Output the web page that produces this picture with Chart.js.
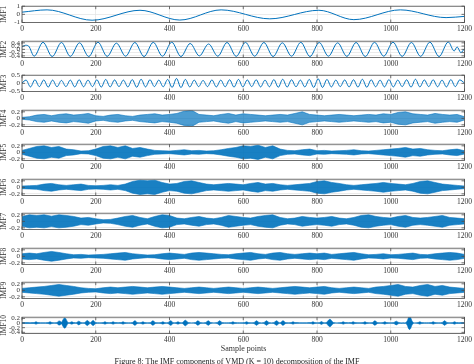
<!DOCTYPE html>
<html>
<head>
<meta charset="utf-8">
<script src="https://cdn.jsdelivr.net/npm/chart.js@4.4.1/dist/chart.umd.min.js"></script>
<style>
body { margin: 0; background: #fff; width: 474px; height: 364px; overflow: hidden; position: relative; font-family: "Liberation Serif", serif; }
canvas { position: absolute; left: 0; }
.xlabel { position: absolute; top: 344px; left: 22px; width: 443px; text-align: center; font-size: 8px; color: #333; }
.caption { position: absolute; top: 357px; left: 0; width: 474px; text-align: center; font-size: 8px; color: #222; }
</style>
</head>
<body>
<div id="wrap"></div>
<div class="xlabel">Sample points</div>
<div class="caption">Figure 8: The IMF components of VMD (K = 10) decomposition of the IMF</div>
<script>
const xTicks = [0, 200, 400, 600, 800, 1000, 1200];
const imfNames = ['IMF1', 'IMF2', 'IMF3', 'IMF4', 'IMF5', 'IMF6', 'IMF7', 'IMF8', 'IMF9', 'IMF10'];
const yRanges = [[-1, 1], [-0.5, 0.5], [-0.5, 0.5], [-0.25, 0.25], [-0.25, 0.25], [-0.25, 0.25], [-0.25, 0.25], [-0.25, 0.25], [-0.25, 0.25], [-0.45, 0.25]];
const yTicks = [[1, 0, -1], [0.4, 0.2, 0, -0.2, -0.4], [0.5, 0, -0.5], [0.2, 0, -0.2], [0.2, 0, -0.2], [0.2, 0, -0.2], [0.2, 0, -0.2], [0.2, 0, -0.2], [0.2, 0, -0.2], [0.2, 0, -0.2, -0.4]];

// IMF1..IMF3: turning points
const imf1X = [0, 68, 190, 320, 428, 540, 672, 805, 900, 1026, 1150, 1200];
const imf1Y = [0.27, 0.55, -0.72, 0.5, -0.7, 0.55, -0.55, 0.5, -0.65, 0.55, -0.4, -0.25];

const imf2X = [0, 10, 18, 33, 57, 82, 107, 131, 156, 181, 206, 231, 256, 281, 306, 331, 356, 381, 406, 431, 456, 481, 506, 531, 556, 581, 606, 631, 656, 681, 706, 731, 756, 781, 806, 831, 856, 881, 906, 931, 956, 981, 1006, 1031, 1056, 1081, 1106, 1131, 1156, 1172, 1180, 1190, 1200];
const imf2Y = [0.15, 0.25, 0.2, -0.42, 0.43, -0.44, 0.42, -0.43, 0.4, -0.44, 0.44, -0.43, 0.38, -0.42, 0.42, -0.44, 0.43, -0.42, 0.44, -0.44, 0.36, -0.4, 0.33, -0.42, 0.42, -0.43, 0.43, -0.42, 0.42, -0.44, 0.4, -0.42, 0.43, -0.44, 0.42, -0.42, 0.4, -0.43, 0.42, -0.44, 0.43, -0.42, 0.44, -0.43, 0.42, -0.43, 0.44, -0.44, 0.45, -0.1, 0.15, -0.2, 0.05];

const imf3X = [0, 11, 23, 35, 47, 59, 71, 83, 95, 107, 119, 131, 143, 155, 167, 179, 191, 203, 215, 227, 239, 251, 263, 275, 287, 299, 311, 323, 335, 347, 359, 371, 383, 395, 407, 419, 431, 443, 455, 467, 479, 491, 503, 515, 527, 539, 551, 563, 575, 587, 599, 611, 623, 635, 647, 659, 671, 683, 695, 707, 719, 731, 743, 755, 767, 779, 791, 803, 815, 827, 839, 851, 863, 875, 887, 899, 911, 923, 935, 947, 959, 971, 983, 995, 1007, 1019, 1031, 1043, 1055, 1067, 1079, 1091, 1103, 1115, 1127, 1139, 1151, 1163, 1175, 1187, 1200];
const imf3Y = [0.02,
  0.2, -0.22, 0.22, -0.2, 0.21, -0.23, 0.2, -0.21, 0.18, -0.2,
  0.2, -0.22, 0.22, -0.21, 0.2, -0.2, 0.22, -0.23, 0.24, -0.22,
  0.21, -0.2, 0.2, -0.22, 0.23, -0.24, 0.25, -0.22, 0.22, -0.2,
  0.2, -0.21, 0.24, -0.25, 0.3, -0.26, 0.24, -0.22, 0.2, -0.2,
  0.18, -0.2, 0.21, -0.22, 0.2, -0.21, 0.22, -0.23, 0.24, -0.22,
  0.21, -0.2, 0.22, -0.22, 0.2, -0.21, 0.23, -0.24, 0.25, -0.23,
  0.22, -0.21, 0.2, -0.22, 0.24, -0.25, 0.28, -0.25, 0.24, -0.22,
  0.2, -0.2, 0.21, -0.22, 0.22, -0.23, 0.25, -0.24, 0.22, -0.21,
  0.2, -0.22, 0.23, -0.22, 0.2, -0.2, 0.22, -0.23, 0.25, -0.22,
  0.21, -0.2, 0.22, -0.21, 0.2, -0.22, 0.23, -0.2, 0.21,
  0.02];

// IMF4..IMF9: oscillation envelope (half peak-to-peak) every 20 samples
const envX = Array.from({ length: 61 }, (_, i) => i * 20);
const imf4Amp = [
  0.03, 0.05, 0.1, 0.12, 0.08, 0.12, 0.14, 0.1, 0.12, 0.15,
  0.08, 0.06, 0.1, 0.12, 0.08, 0.06, 0.1, 0.12, 0.14, 0.1,
  0.12, 0.15, 0.22, 0.25, 0.12, 0.1, 0.08, 0.12, 0.15, 0.1,
  0.14, 0.12, 0.1, 0.08, 0.1, 0.12, 0.1, 0.15, 0.2, 0.12,
  0.1, 0.08, 0.1, 0.12, 0.1, 0.08, 0.1, 0.12, 0.1, 0.14,
  0.12, 0.18, 0.2, 0.14, 0.12, 0.1, 0.15, 0.12, 0.1, 0.12,
  0.05];
const imf5Amp = [
  0.06, 0.12, 0.18, 0.2, 0.15, 0.18, 0.1, 0.08, 0.04, 0.05,
  0.1, 0.18, 0.2, 0.15, 0.2, 0.12, 0.15, 0.1, 0.06, 0.05,
  0.04, 0.06, 0.08, 0.05, 0.06, 0.04, 0.05, 0.08, 0.12, 0.15,
  0.2, 0.18, 0.22, 0.15, 0.2, 0.1, 0.06, 0.05, 0.08, 0.1,
  0.05, 0.06, 0.04, 0.05, 0.06, 0.08, 0.05, 0.04, 0.06, 0.08,
  0.1, 0.12, 0.15, 0.1, 0.12, 0.08, 0.06, 0.05, 0.08, 0.1,
  0.05];
const imf6Amp = [
  0.04, 0.05, 0.06, 0.1, 0.12, 0.08, 0.06, 0.08, 0.1, 0.06,
  0.05, 0.06, 0.08, 0.06, 0.1, 0.18, 0.22, 0.2, 0.22, 0.15,
  0.1, 0.12, 0.18, 0.2, 0.15, 0.1, 0.08, 0.1, 0.12, 0.1,
  0.08, 0.12, 0.15, 0.1, 0.12, 0.08, 0.06, 0.08, 0.1, 0.12,
  0.18, 0.2, 0.15, 0.12, 0.08, 0.06, 0.08, 0.1, 0.12, 0.15,
  0.12, 0.1, 0.08, 0.12, 0.18, 0.2, 0.15, 0.1, 0.08, 0.06,
  0.04];
const imf7Amp = [
  0.15, 0.2, 0.18, 0.2, 0.16, 0.2, 0.18, 0.15, 0.1, 0.12,
  0.08, 0.05, 0.06, 0.1, 0.15, 0.18, 0.12, 0.08, 0.15, 0.2,
  0.18, 0.1, 0.08, 0.12, 0.15, 0.1, 0.08, 0.12, 0.18, 0.15,
  0.12, 0.1, 0.15, 0.18, 0.2, 0.12, 0.08, 0.1, 0.15, 0.12,
  0.1, 0.12, 0.15, 0.1, 0.08, 0.12, 0.18, 0.2, 0.15, 0.12,
  0.1, 0.15, 0.18, 0.12, 0.1, 0.12, 0.15, 0.18, 0.12, 0.1,
  0.08];
const imf8Amp = [
  0.08, 0.1, 0.08, 0.12, 0.15, 0.12, 0.08, 0.05, 0.06, 0.04,
  0.05, 0.06, 0.08, 0.1, 0.12, 0.08, 0.06, 0.04, 0.05, 0.08,
  0.1, 0.08, 0.06, 0.1, 0.12, 0.1, 0.08, 0.06, 0.05, 0.08,
  0.1, 0.12, 0.08, 0.06, 0.1, 0.12, 0.08, 0.06, 0.08, 0.1,
  0.08, 0.1, 0.06, 0.08, 0.1, 0.12, 0.08, 0.05, 0.06, 0.08,
  0.05, 0.06, 0.08, 0.1, 0.06, 0.05, 0.08, 0.1, 0.12, 0.1,
  0.06];
const imf9Amp = [
  0.06, 0.08, 0.1, 0.12, 0.15, 0.18, 0.15, 0.12, 0.08, 0.06,
  0.05, 0.08, 0.1, 0.08, 0.1, 0.12, 0.1, 0.08, 0.1, 0.12,
  0.1, 0.08, 0.06, 0.08, 0.1, 0.08, 0.06, 0.08, 0.1, 0.08,
  0.06, 0.08, 0.1, 0.08, 0.06, 0.08, 0.1, 0.12, 0.1, 0.08,
  0.1, 0.12, 0.08, 0.06, 0.08, 0.1, 0.08, 0.06, 0.1, 0.12,
  0.15, 0.18, 0.12, 0.1, 0.15, 0.18, 0.12, 0.15, 0.1, 0.08,
  0.06];

// IMF10: thin trace with short bursts (centre, half amplitude, half width in samples)
const imf10Centers = [38, 76, 101, 116, 135, 154, 177, 193, 225, 247, 274, 306, 328, 355, 382, 403, 423, 443, 477, 505, 536, 572, 609, 636, 663, 690, 708, 735, 789, 812, 835, 871, 898, 930, 957, 984, 1015, 1051, 1079, 1115, 1146, 1173];
const imf10Amp = [0.05, 0.05, 0.09, 0.22, 0.05, 0.08, 0.11, 0.11, 0.05, 0.05, 0.05, 0.1, 0.05, 0.1, 0.05, 0.1, 0.05, 0.12, 0.1, 0.1, 0.1, 0.05, 0.05, 0.1, 0.1, 0.1, 0.1, 0.05, 0.05, 0.06, 0.16, 0.05, 0.05, 0.05, 0.1, 0.05, 0.08, 0.28, 0.05, 0.05, 0.1, 0.05];
const imf10Width = [5, 5, 7, 9, 5, 6, 7, 7, 5, 5, 5, 7, 5, 7, 5, 7, 5, 8, 7, 7, 7, 5, 5, 7, 7, 7, 7, 5, 5, 5, 10, 5, 5, 5, 7, 5, 7, 10, 5, 5, 7, 5];
const imf10Base = 0.02;

const blue = '#0072BD';
const PANEL_STEP = 34.55;

function lineSet(xs, ys) {
  return [{
    data: xs.map((x, i) => ({ x: x, y: ys[i] })),
    borderColor: blue, borderWidth: 1, pointRadius: 0, fill: false,
    cubicInterpolationMode: 'monotone'
  }];
}

function bandSet(xs, up, alpha, tension) {
  return [
    { data: xs.map((x, i) => ({ x: x, y: up[i] })), borderColor: blue, borderWidth: 0.6, pointRadius: 0, fill: false, tension: tension },
    { data: xs.map((x, i) => ({ x: x, y: -up[i] })), borderColor: blue, borderWidth: 0.6, pointRadius: 0, fill: '-1', tension: tension,
      backgroundColor: `rgba(0,114,189,${alpha})` }
  ];
}

function burstPoints() {
  const xs = [0], amp = [imf10Base];
  imf10Centers.forEach((c, i) => {
    xs.push(c - imf10Width[i], c, c + imf10Width[i]);
    amp.push(imf10Base, imf10Amp[i], imf10Base);
  });
  xs.push(1200); amp.push(imf10Base);
  return [xs, amp];
}

const framePlugin = {
  id: 'frame',
  afterDraw(chart) {
    const { ctx, chartArea: a, scales } = chart;
    ctx.save();
    ctx.strokeStyle = '#4d4d4d';
    ctx.lineWidth = 0.8;
    ctx.strokeRect(a.left, a.top, a.width, a.height);
    ctx.beginPath();
    scales.x.ticks.forEach((t) => {
      const px = scales.x.getPixelForValue(t.value);
      ctx.moveTo(px, a.top); ctx.lineTo(px, a.top + 3);
      ctx.moveTo(px, a.bottom); ctx.lineTo(px, a.bottom - 3);
    });
    scales.y.ticks.forEach((t) => {
      const py = scales.y.getPixelForValue(t.value);
      ctx.moveTo(a.left, py); ctx.lineTo(a.left + 3, py);
      ctx.moveTo(a.right, py); ctx.lineTo(a.right - 3, py);
    });
    ctx.stroke();
    ctx.restore();
  }
};

const wrap = document.getElementById('wrap');
const [b10x, b10a] = burstPoints();
const panels = [
  lineSet(imf1X, imf1Y),
  lineSet(imf2X, imf2Y),
  lineSet(imf3X, imf3Y),
  bandSet(envX, imf4Amp, 0.7, 0),
  bandSet(envX, imf5Amp, 0.9, 0),
  bandSet(envX, imf6Amp, 0.9, 0),
  bandSet(envX, imf7Amp, 0.9, 0),
  bandSet(envX, imf8Amp, 0.9, 0),
  bandSet(envX, imf9Amp, 0.9, 0),
  bandSet(b10x, b10a, 1, 0.4)
];

panels.forEach((datasets, p) => {
  const cv = document.createElement('canvas');
  cv.width = 474; cv.height = 36;
  cv.style.top = (p * PANEL_STEP) + 'px';
  wrap.appendChild(cv);
  new Chart(cv, {
    type: 'line',
    data: { datasets: datasets },
    plugins: [framePlugin],
    options: {
      responsive: false,
      animation: false,
      devicePixelRatio: 1,
      layout: { padding: { top: 2.5, right: 9, left: 0, bottom: 0 } },
      plugins: { legend: { display: false }, tooltip: { enabled: false } },
      events: [],
      scales: {
        x: {
          type: 'linear', min: 0, max: 1200,
          afterBuildTicks: (s) => { s.ticks = xTicks.map((v) => ({ value: v })); },
          afterFit: (s) => { s.height = 13.5; },
          border: { display: false },
          grid: { color: '#e3e3e3', lineWidth: 0.7, drawTicks: false },
          ticks: { padding: 2, maxRotation: 0, autoSkip: false, color: '#333', callback: (v) => String(v), font: { family: 'Liberation Serif', size: 7.5 } }
        },
        y: {
          min: yRanges[p][0], max: yRanges[p][1],
          afterBuildTicks: (s) => { s.ticks = yTicks[p].map((v) => ({ value: v })); },
          afterFit: (s) => { s.width = 22; },
          border: { display: false },
          grid: { color: '#e3e3e3', lineWidth: 0.7, drawTicks: false },
          ticks: { padding: 2, autoSkip: false, color: '#333', font: { family: 'Liberation Serif', size: 7 } },
          title: { display: true, text: imfNames[p], color: '#333', padding: { top: 0, bottom: 0 }, font: { family: 'Liberation Serif', size: 7.5 } }
        }
      }
    }
  });
});
</script>
</body>
</html>
